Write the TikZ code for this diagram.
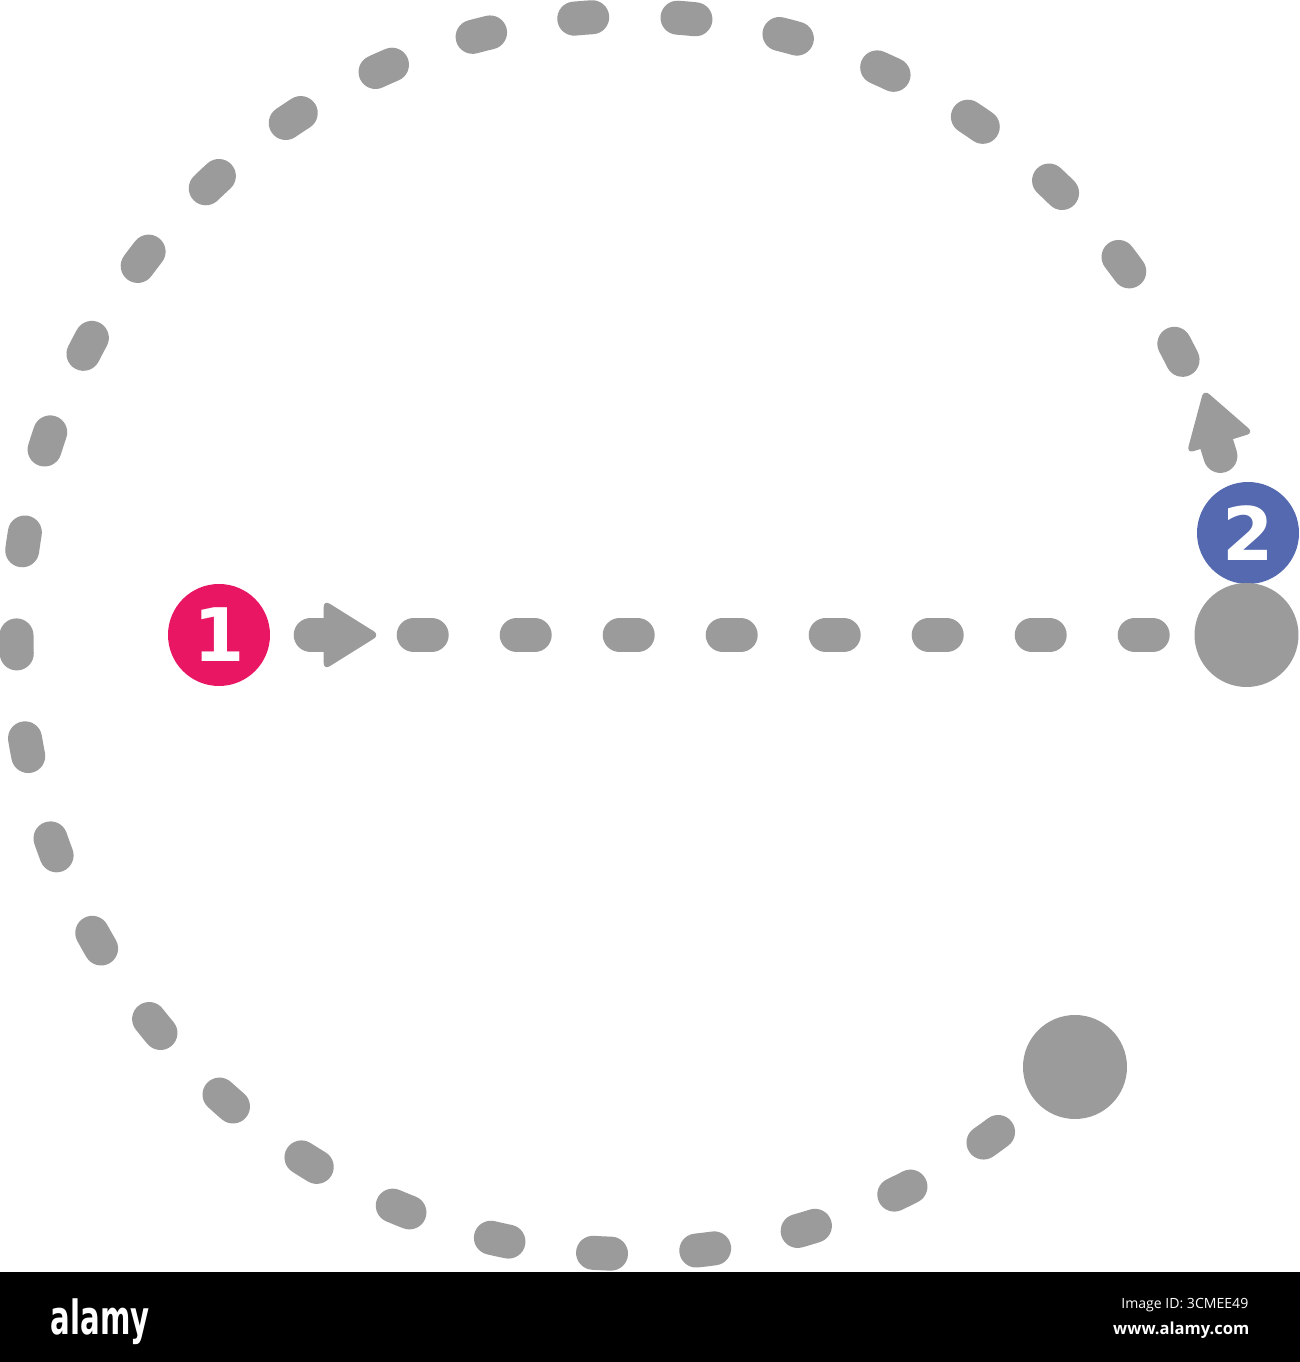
\documentclass[tikz,border=0pt]{standalone}
\usepackage{fontspec}
\setmainfont{DejaVu Sans}
\newfontfamily\osans{Open Sans}
\usetikzlibrary{decorations.markings}
\definecolor{dashgray}{RGB}{155,155,155}
\definecolor{badgered}{RGB}{233,22,99}
\definecolor{badgeblue}{RGB}{84,105,176}
\pgfdeclarelayer{bg}
\pgfsetlayers{bg,main}
\begin{document}
\begin{tikzpicture}[
  dashline/.style={draw=dashgray, line width=0.34cm, line cap=round},
  dot/.style={circle, fill=dashgray, minimum size=1.04cm, inner sep=0pt},
  badge/.style={circle, minimum size=1.02cm, inner sep=0pt, text=white, font=\fontsize{21}{21}\selectfont\bfseries},
  headshape/.style={fill=dashgray, rounded corners=0.07cm},
  arrowhd/.style={postaction={decorate, decoration={markings, mark=at position #1 with {\fill[headshape] (0.04,0.35) -- (0.60,0) -- (0.04,-0.35) -- cycle;}}}}
]
\useasboundingbox (0,0) rectangle (13,13.62);
\coordinate (O) at (6.315,7.27);
% nodes
\node[badge, fill=badgeblue] (n2) at (12.48,8.29) {2};
\node[dot] (dotR) at (12.465,7.27) {};
\node[dot] (dotB) at (10.75,2.95) {};
\node[badge, fill=badgered] (n1) at (2.19,7.27) {1};
% connectors
\begin{pgfonlayer}{bg}
\fill[white] (0,0) rectangle (13,13.62);
\draw[dashline, dash pattern=on 0.18cm off 0.85cm, dash phase=0.63cm, arrowhd=0.49cm] (n1) -- (dotR);
\draw[dashline, dash pattern=on 0.18cm off 0.8538cm, dash phase=0.2515cm] (dotR.center) arc[start angle=0, end angle=315.8, x radius=6.15, y radius=6.19];
\path (O) ++(17.7:6.15 and 6.19) coordinate (ah2);
\fill[headshape, shift={(ah2)}, shift={(0.04,0)}, rotate=107] (0.04,0.35) -- (0.60,0) -- (0.04,-0.35) -- cycle;
\end{pgfonlayer}
% footer
\fill[black] (0,0) rectangle (13,0.90);
\node[anchor=base west, inner sep=0pt, text=white] (logo) at (0.50,0.28) {\scalebox{0.62}[1]{\fontsize{13.4}{13.4}\selectfont\bfseries alamy}};
\node[anchor=base east, inner sep=0pt, text=white, font=\osans\fontsize{4}{4}\selectfont] (imgid) at (12.49,0.53) {Image ID: 3CMEE49};
\node[anchor=base east, inner sep=0pt, text=white, font=\osans\bfseries\fontsize{4.7}{4.7}\selectfont] (site) at (12.50,0.28) {www.alamy.com};
\end{tikzpicture}
\end{document}
